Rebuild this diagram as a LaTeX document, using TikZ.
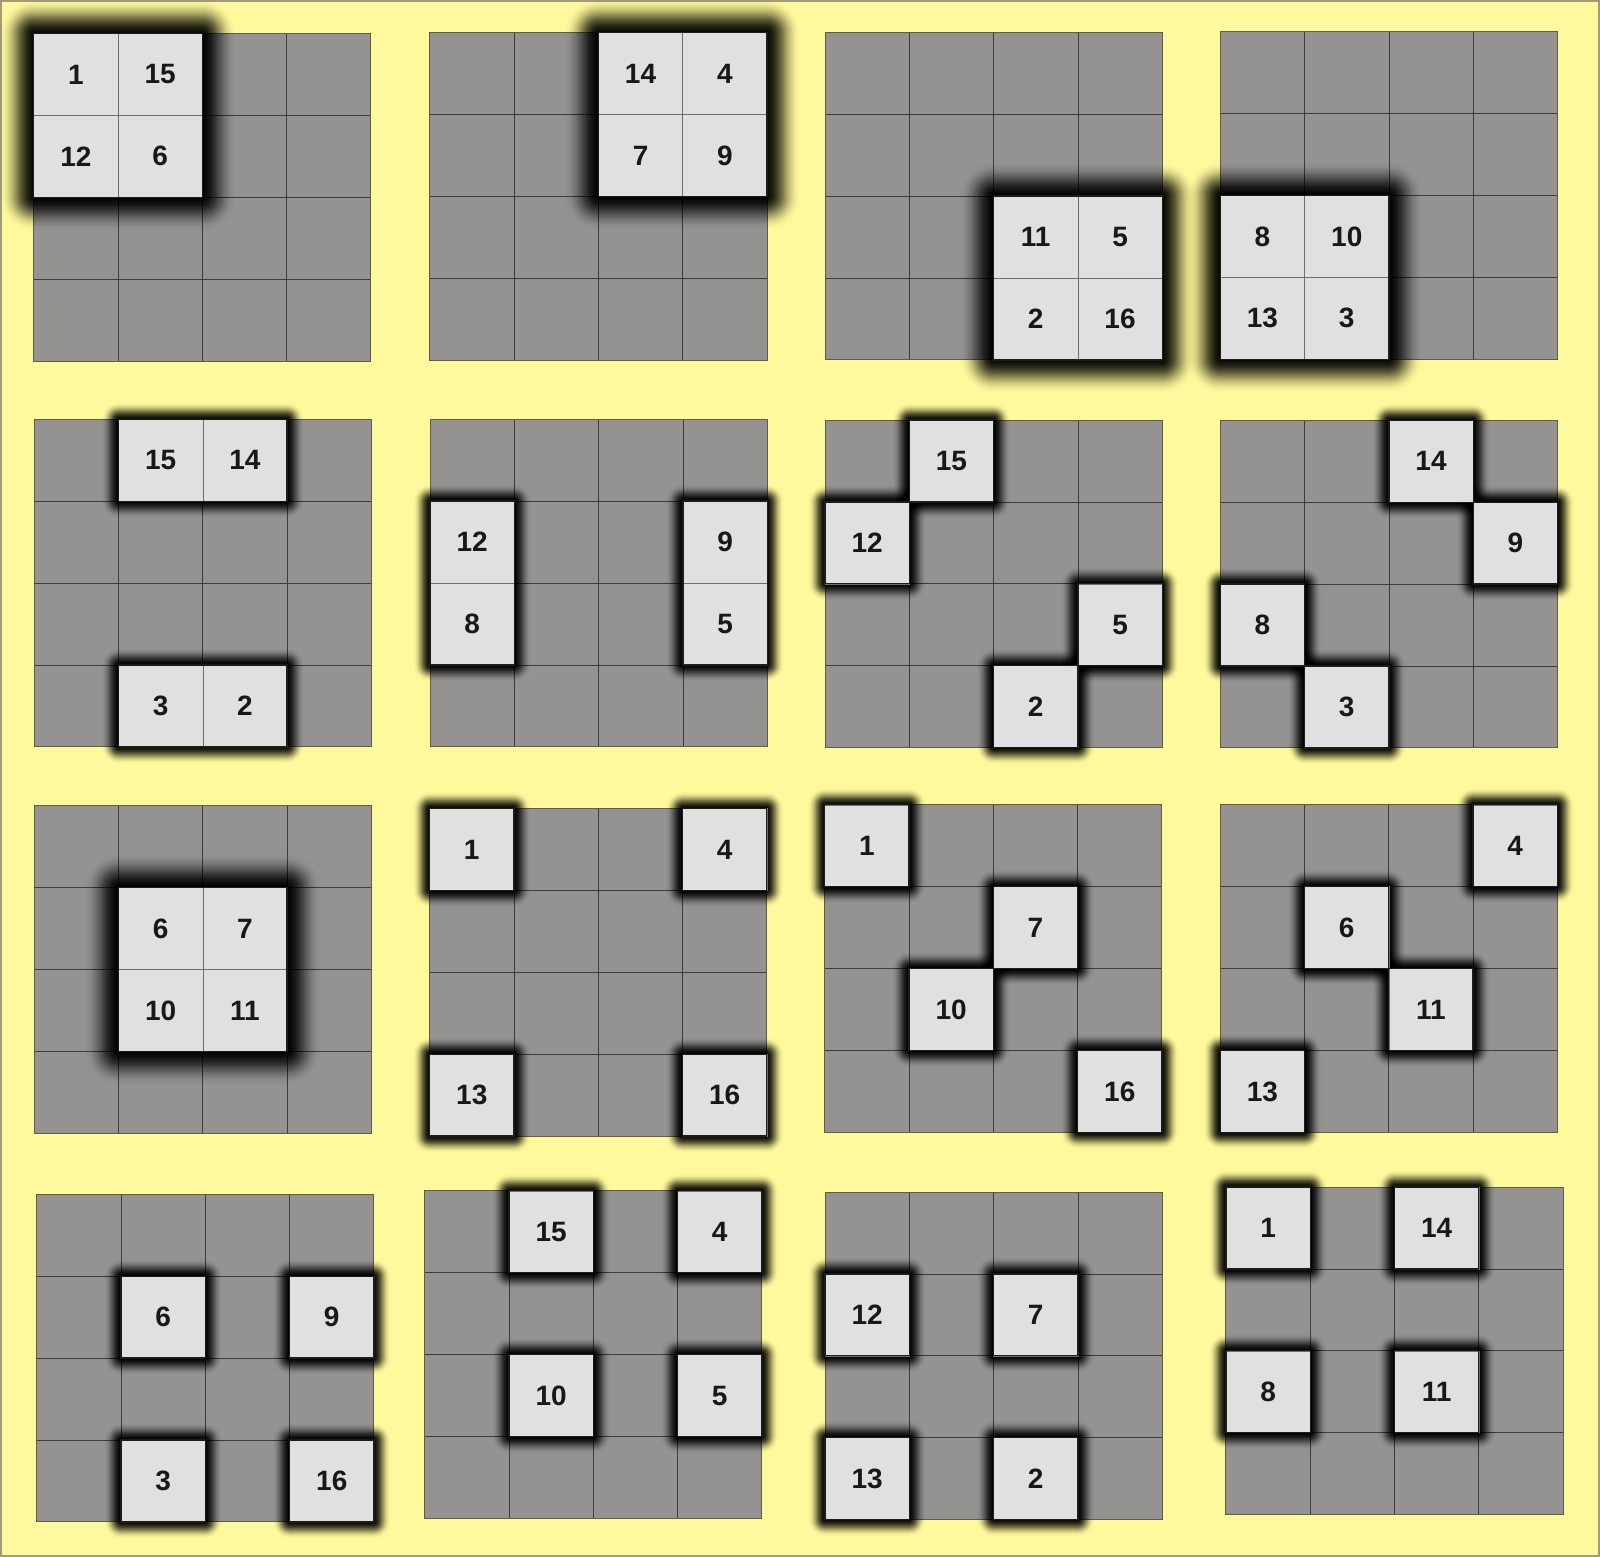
\documentclass[tikz,border=0pt]{standalone}
\usepackage{fontspec}
\setmainfont{Liberation Sans}
\definecolor{bgyellow}{RGB}{255,249,157}
\definecolor{cellgray}{RGB}{148,147,145}
\definecolor{celllight}{RGB}{224,224,224}
\definecolor{gridline}{RGB}{60,60,56}
\definecolor{gridframe}{RGB}{96,94,66}
\definecolor{pageframe}{RGB}{160,158,120}
\definecolor{numcol}{RGB}{26,24,22}
\definecolor{inner}{RGB}{110,110,108}
\definecolor{darkedge}{RGB}{30,28,26}
\newcommand\cw{84.3}
\newcommand\ch{81.9}
\tikzset{
  num/.style={font=\fontsize{28}{30}\selectfont\bfseries, text=numcol, inner sep=0pt},
  glowlayer/.style={fill=black},
  lightcell/.style={fill=celllight, draw=inner, line width=0.6pt},
  blockedge/.style={draw=darkedge, line width=1.3pt},
  gridlines/.style={draw=gridline, line width=0.8pt},
  gridborder/.style={draw=gridframe, line width=1pt}
}
% #1 id, #2 left, #3 top, #4 units r/c/nr/nc/R, #5 cells r/c/num
\newcommand\puzzle[5]{%
  \begin{scope}[shift={(#2,#3)}]
    \fill[cellgray] (0,0) rectangle ({4*\cw},{4*\ch});
    \foreach \i in {1,2,3} {
      \draw[gridlines] ({\i*\cw},0) -- ({\i*\cw},{4*\ch});
      \draw[gridlines] (0,{\i*\ch}) -- ({4*\cw},{\i*\ch});
    }
    \draw[gridborder] (0,0) rectangle ({4*\cw},{4*\ch});
    \foreach \r/\c/\nr/\nc/\R in {#4} {
      \foreach \k in {1,...,20} {
        \pgfmathsetmacro\e{\k*\R/20}
        \pgfmathsetmacro\op{0.28*(1-(\k-1)/20)^1.4}
        \path[glowlayer, opacity=\op, rounded corners=\e pt]
          ({\c*\cw-\e},{\r*\ch-\e}) rectangle ({(\c+\nc)*\cw+\e},{(\r+\nr)*\ch+\e});
      }
    }
    \foreach \r/\c/\n in {#5} {
      \path[lightcell] ({\c*\cw},{\r*\ch}) rectangle ({(\c+1)*\cw},{(\r+1)*\ch});
      \node[num] (p#1n\n) at ({(\c+0.5)*\cw},{(\r+0.5)*\ch}) {\n};
    }
    \foreach \r/\c/\nr/\nc/\R in {#4} {
      \path[blockedge] ({\c*\cw},{\r*\ch}) rectangle ({(\c+\nc)*\cw},{(\r+\nr)*\ch});
    }
  \end{scope}}
\begin{document}
\begin{tikzpicture}[x=1pt,y=-1pt]
\useasboundingbox (0,0) rectangle (1600,1557);
\fill[bgyellow] (0,0) rectangle (1600,1557);
\draw[pageframe, line width=2pt] (1,1) rectangle (1599,1556);
% row 1
\puzzle{1}{33.7}{33.5}{0/0/2/2/34}{0/0/1,0/1/15,1/0/12,1/1/6}
\puzzle{2}{429.8}{32.7}{0/2/2/2/34}{0/2/14,0/3/4,1/2/7,1/3/9}
\puzzle{3}{825}{32.3}{2/2/2/2/34}{2/2/11,2/3/5,3/2/2,3/3/16}
\puzzle{4}{1220.3}{31.7}{2/0/2/2/34}{2/0/8,2/1/10,3/0/13,3/1/3}
% row 2
\puzzle{5}{34.2}{419.3}{0/1/1/2/17,3/1/1/2/17}{0/1/15,0/2/14,3/1/3,3/2/2}
\puzzle{6}{430}{419.2}{1/0/2/1/17,1/3/2/1/17}{1/0/12,2/0/8,1/3/9,2/3/5}
\puzzle{7}{825}{420}{0/1/1/1/17,1/0/1/1/17,2/3/1/1/17,3/2/1/1/17}{0/1/15,1/0/12,2/3/5,3/2/2}
\puzzle{8}{1220.3}{420.3}{0/2/1/1/17,1/3/1/1/17,2/0/1/1/17,3/1/1/1/17}{0/2/14,1/3/9,2/0/8,3/1/3}
% row 3
\puzzle{9}{34.2}{805.7}{1/1/2/2/34}{1/1/6,1/2/7,2/1/10,2/2/11}
\puzzle{10}{429.6}{808.5}{0/0/1/1/17,0/3/1/1/17,3/0/1/1/17,3/3/1/1/17}{0/0/1,0/3/4,3/0/13,3/3/16}
\puzzle{11}{824.7}{804.8}{0/0/1/1/17,1/2/1/1/17,2/1/1/1/17,3/3/1/1/17}{0/0/1,1/2/7,2/1/10,3/3/16}
\puzzle{12}{1220.2}{804.8}{0/3/1/1/17,1/1/1/1/17,2/2/1/1/17,3/0/1/1/17}{0/3/4,1/1/6,2/2/11,3/0/13}
% row 4
\puzzle{13}{36.7}{1194.3}{1/1/1/1/17,1/3/1/1/17,3/1/1/1/17,3/3/1/1/17}{1/1/6,1/3/9,3/1/3,3/3/16}
\puzzle{14}{424.7}{1190.8}{0/1/1/1/17,0/3/1/1/17,2/1/1/1/17,2/3/1/1/17}{0/1/15,0/3/4,2/1/10,2/3/5}
\puzzle{15}{825}{1192}{1/0/1/1/17,1/2/1/1/17,3/0/1/1/17,3/2/1/1/17}{1/0/12,1/2/7,3/0/13,3/2/2}
\puzzle{16}{1225.9}{1187}{0/0/1/1/17,0/2/1/1/17,2/0/1/1/17,2/2/1/1/17}{0/0/1,0/2/14,2/0/8,2/2/11}
\end{tikzpicture}
\end{document}
